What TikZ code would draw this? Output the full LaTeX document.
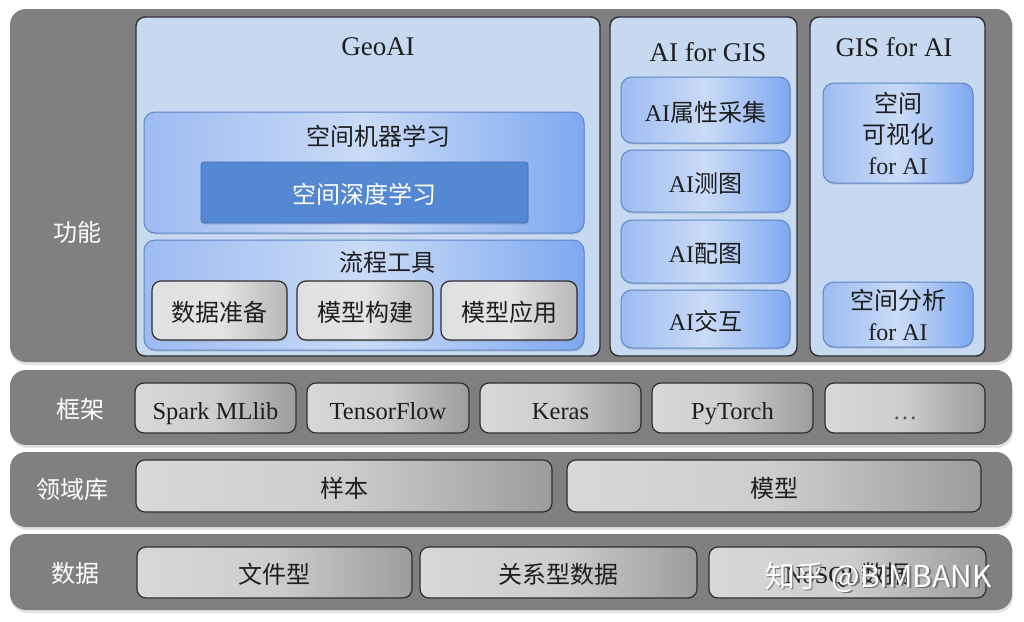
\documentclass[tikz,border=0pt]{standalone}
\usepackage{fontspec}
\setmainfont{Liberation Serif}
\newfontfamily\cjk{Noto Sans CJK SC}
\usetikzlibrary{shadows}
\definecolor{band}{HTML}{808080}
\definecolor{panel}{HTML}{C7D9F1}
\definecolor{panelline}{HTML}{2E2E2E}
\definecolor{blL}{HTML}{9DBBF2}
\definecolor{blM}{HTML}{CADBF7}
\definecolor{blR}{HTML}{7EA8F0}
\definecolor{blline}{HTML}{5A84C6}
\definecolor{deep}{HTML}{5588D2}
\definecolor{deepline}{HTML}{4070B8}
\definecolor{grL}{HTML}{D8D8D8}
\definecolor{grM}{HTML}{CDCDCD}
\definecolor{grR}{HTML}{9C9C9C}
\definecolor{txt}{HTML}{1E1E1E}
\newcommand{\zh}[1]{{\cjk #1}}
\tikzset{
  base/.style={inner sep=0pt, outer sep=0pt, text=txt},
  oneline/.style={text height=22pt, text depth=0pt},
  bandbox/.style={base, fill=band, rounded corners=16pt, draw=none,
    drop shadow={opacity=0.22, shadow xshift=1pt, shadow yshift=-3pt}},
  bandlabel/.style={base, text=white, font=\cjk\fontsize{24}{28}\selectfont},
  panelbox/.style={base, fill=panel, draw=panelline, line width=1.4pt, rounded corners=9pt},
  titletext/.style={base, font=\fontsize{27}{31}\selectfont},
  bluebox/.style={base, draw=blline, line width=1pt, rounded corners=11pt,
    left color=blL, right color=blR, middle color=blM,
    drop shadow={opacity=0.25, shadow xshift=0.8pt, shadow yshift=-1.6pt},
    align=center, font=\fontsize{24}{31}\selectfont},
  deepbox/.style={base, oneline, fill=deep, draw=deepline, line width=0.8pt, rounded corners=3pt,
    text=white, font=\cjk\fontsize{24}{28}\selectfont,
    drop shadow={opacity=0.3, shadow xshift=0.8pt, shadow yshift=-1.6pt}},
  graybox/.style={base, oneline, draw=panelline, line width=1.2pt, rounded corners=9pt,
    left color=grL, right color=grR, middle color=grM,
    drop shadow={opacity=0.3, shadow xshift=0.8pt, shadow yshift=-1.6pt},
    font=\fontsize{24.5}{28}\selectfont},
  lightgray/.style={graybox, left color=grL!80!white, right color=grL!85!black, middle color=grL!70!white},
}
\begin{document}
\begin{tikzpicture}[x=1pt,y=-1pt]
\fill[white] (0,0) rectangle (1024,621);
\useasboundingbox (0,0) rectangle (1024,621);

% bands
\node[bandbox, minimum width=1002pt, minimum height=353pt] (bandF) at (511,185.5) {};
\node[bandbox, minimum width=1002pt, minimum height=75pt] (bandK) at (511,407.5) {};
\node[bandbox, minimum width=1002pt, minimum height=75pt] (bandL) at (511,489.5) {};
\node[bandbox, minimum width=1002pt, minimum height=76pt] (bandD) at (511,572) {};

\node[bandlabel] (lF) at (77,232) {功能};
\node[bandlabel] (lK) at (80,409) {框架};
\node[bandlabel] (lL) at (72,489) {领域库};
\node[bandlabel] (lD) at (75,573) {数据};

% panels
\node[panelbox, minimum width=464pt, minimum height=339pt] (geo) at (368,186.5) {};
\node[panelbox, minimum width=187pt, minimum height=339pt] (aig) at (703.5,186.5) {};
\node[panelbox, minimum width=175pt, minimum height=339pt] (gia) at (897.5,186.5) {};

\node[titletext] (geoT) at (378,47) {GeoAI};
\node[titletext] (aigT) at (708,52) {AI for GIS};
\node[titletext] (giaT) at (894,47) {GIS for AI};

% GeoAI content
\node[bluebox, minimum width=440pt, minimum height=121pt] (ml) at (364,172.5) {};
\node[base, font=\cjk\fontsize{24}{28}\selectfont] (mlT) at (378,136) {空间机器学习};
\node[deepbox, minimum width=327pt, minimum height=61pt] (dl) at (364.5,192.5) {空间深度学习};

\node[bluebox, minimum width=440pt, minimum height=110pt] (flow) at (364,295) {};
\node[base, font=\cjk\fontsize{24}{28}\selectfont] (flowT) at (387.5,262) {流程工具};
\node[lightgray, minimum width=135pt, minimum height=59pt, font=\cjk\fontsize{24}{28}\selectfont] (prep) at (219.5,310.5) {数据准备};
\node[lightgray, minimum width=136pt, minimum height=59pt, font=\cjk\fontsize{24}{28}\selectfont] (build) at (365,310.5) {模型构建};
\node[lightgray, minimum width=136pt, minimum height=59pt, font=\cjk\fontsize{24}{28}\selectfont] (apply) at (509,310.5) {模型应用};

% AI for GIS
\node[bluebox, oneline, minimum width=169pt, minimum height=66pt] (a1) at (705.5,110) {AI\zh{属性采集}};
\node[bluebox, oneline, minimum width=169pt, minimum height=62pt] (a2) at (705.5,181) {AI\zh{测图}};
\node[bluebox, oneline, minimum width=169pt, minimum height=63pt] (a3) at (705.5,251.5) {AI\zh{配图}};
\node[bluebox, oneline, minimum width=169pt, minimum height=58pt] (a4) at (705.5,319) {AI\zh{交互}};

% GIS for AI
\node[bluebox, minimum width=150pt, minimum height=100pt] (g1) at (898,133) {\zh{空间}\\\zh{可视化}\\for AI};
\node[bluebox, minimum width=150pt, minimum height=65pt] (g2) at (898,314.5) {\zh{空间分析}\\for AI};

% frameworks
\node[graybox, minimum width=161pt, minimum height=50pt] (spark) at (215.5,408) {Spark MLlib};
\node[graybox, minimum width=162pt, minimum height=50pt] (tf) at (388,408) {TensorFlow};
\node[graybox, minimum width=161pt, minimum height=50pt] (keras) at (560.5,408) {Keras};
\node[graybox, minimum width=161pt, minimum height=50pt] (torch) at (732.5,408) {PyTorch};
\node[graybox, minimum width=160pt, minimum height=50pt, text=txt!75] (more) at (905,408) {…};

% domain libraries
\node[graybox, minimum width=416pt, minimum height=52pt, font=\cjk\fontsize{24}{28}\selectfont] (sample) at (344,486) {样本};
\node[graybox, minimum width=414pt, minimum height=52pt, font=\cjk\fontsize{24}{28}\selectfont] (model) at (774,486) {模型};

% data
\node[graybox, minimum width=275pt, minimum height=51pt, font=\cjk\fontsize{24}{28}\selectfont] (file) at (274.5,572.5) {文件型};
\node[graybox, minimum width=277pt, minimum height=51pt, font=\cjk\fontsize{24}{28}\selectfont] (rel) at (558.5,572.5) {关系型数据};
\node[graybox, minimum width=277pt, minimum height=51pt] (nosql) at (847.5,572.5) {NoSQL\zh{数据}};

% watermark
\node[base, text=black!55, font=\cjk\fontsize{30}{34}\selectfont] (wmS) at (880,578.5) {知乎 @BIMBANK};
\node[base, text=white, font=\cjk\fontsize{30}{34}\selectfont] (wm) at (878.5,577) {知乎 @BIMBANK};
\end{tikzpicture}
\end{document}
